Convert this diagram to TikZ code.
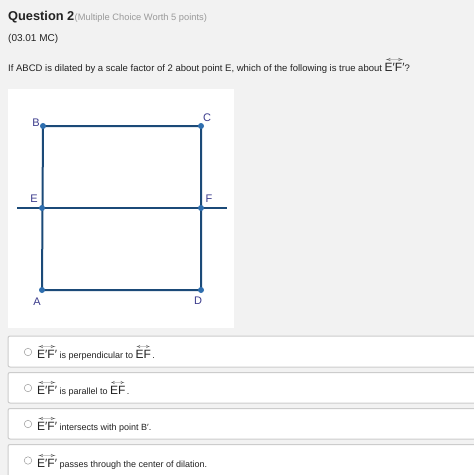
\documentclass[tikz,border=0pt]{standalone}
\usepackage{amsmath}
\usepackage{graphicx}
\usepackage{fontspec}
\setmainfont{Liberation Sans}
\usetikzlibrary{positioning}

\definecolor{pagegray}{HTML}{F2F2F2}
\definecolor{boxgray}{HTML}{CCCCCC}
\definecolor{segblue}{HTML}{1B4A78}
\definecolor{dotblue}{HTML}{2E6EAE}
\definecolor{lblblue}{HTML}{3B3B8C}
\definecolor{qtext}{HTML}{222222}
\definecolor{softgray}{HTML}{9A9A9A}

\newsavebox{\lnbox}
\newcommand{\lineover}[1]{\sbox{\lnbox}{#1}\leavevmode
  \rlap{\raisebox{\dimexpr\ht\lnbox+1.3pt\relax}{\resizebox{\wd\lnbox}{2.2pt}{$\leftrightarrow$}}}\usebox{\lnbox}}
\newcommand{\bigsym}[1]{{\fontsize{12}{13}\selectfont\lineover{#1}}}

\begin{document}
\begin{tikzpicture}[x=1pt, y=-1pt,
  pt/.style={circle, fill=dotblue, inner sep=0pt, minimum size=6pt},
  lbl/.style={text=lblblue, inner sep=0pt, font=\fontsize{11}{12}\selectfont},
  seg/.style={draw=segblue, line width=2pt},
  txt/.style={anchor=base west, inner sep=0pt, text=qtext},
  choicebox/.style={draw=boxgray, fill=white, line width=1pt, rounded corners=2pt},
  radio/.style={circle, draw=softgray, fill=white, line width=0.5pt, inner sep=0pt, minimum size=7.5pt}]
\useasboundingbox (0,0) rectangle (474,475);
\fill[pagegray] (0,0) rectangle (474,475);

% heading
\node[txt, font=\bfseries\fontsize{12.8}{14}\selectfont] (title) at (8,20) {Question 2};
\node[txt, text=softgray, font=\fontsize{9.3}{10}\selectfont] (worth) at (title.base east) {(Multiple Choice Worth 5 points)};
\node[txt, font=\fontsize{10}{12}\selectfont] (code) at (8,41) {(03.01 MC)};
\node[txt, font=\fontsize{9.5}{12}\selectfont] (ask) at (8,71)
  {If ABCD is dilated by a scale factor of 2 about point E, which of the following is true about \bigsym{E′F′}?};

% figure
\fill[white] (8,89) rectangle (234,328);
\coordinate (B) at (43,126);
\coordinate (C) at (201,126);
\coordinate (E) at (42,208);
\coordinate (F) at (201,208);
\coordinate (A) at (42,290);
\coordinate (D) at (201,290);
\coordinate (Lend) at (17,208);
\coordinate (Rend) at (227,208);
\draw[seg] (A) -- (B) -- (C) -- (D) -- cycle;
\draw[seg] (Lend) -- (Rend);
\node[pt] (Bdot) at (B) {};
\node[pt] (Cdot) at (C) {};
\node[pt] (Edot) at (E) {};
\node[pt] (Fdot) at (F) {};
\node[pt] (Adot) at (A) {};
\node[pt] (Ddot) at (D) {};
\node[lbl] (Blbl) at (36,123) {B};
\node[lbl] (Clbl) at (207,118) {C};
\node[lbl] (Elbl) at (34,199) {E};
\node[lbl] (Flbl) at (209,199) {F};
\node[lbl] (Albl) at (37,302) {A};
\node[lbl] (Dlbl) at (198,301) {D};

% choices
\draw[choicebox] (8,336) rectangle (480,367);
\draw[choicebox] (8,372.5) rectangle (480,403);
\draw[choicebox] (8,408.5) rectangle (480,439);
\draw[choicebox] (8,444.5) rectangle (480,480);
\node[radio] (r1) at (28,352) {};
\node[radio] (r2) at (28,388) {};
\node[radio] (r3) at (28,424) {};
\node[radio] (r4) at (28,460.5) {};
\node[txt, font=\fontsize{9}{10}\selectfont] (c1) at (37,358)
  {\bigsym{E′F′} is perpendicular to \bigsym{EF}\,.};
\node[txt, font=\fontsize{9}{10}\selectfont] (c2) at (37,394)
  {\bigsym{E′F′} is parallel to \bigsym{EF}\,.};
\node[txt, font=\fontsize{9}{10}\selectfont] (c3) at (37,430)
  {\bigsym{E′F′} intersects with point B′.};
\node[txt, font=\fontsize{9}{10}\selectfont] (c4) at (37,467)
  {\bigsym{E′F′} passes through the center of dilation.};
\end{tikzpicture}
\end{document}
